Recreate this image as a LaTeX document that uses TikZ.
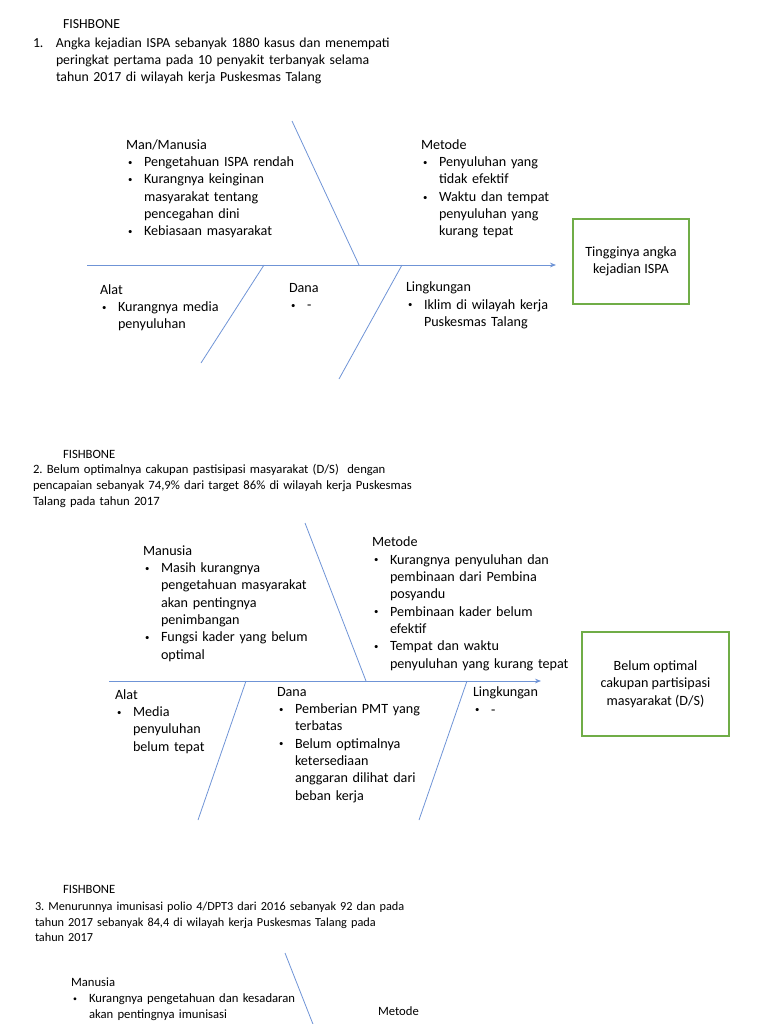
\documentclass[tikz,border=0pt]{standalone}
\usepackage{fontspec}
\usepackage{graphicx}
\setmainfont{Carlito}
\usetikzlibrary{arrows.meta}
\definecolor{bonecol}{HTML}{6F94D6}
\definecolor{boxgreen}{HTML}{70AD47}
\frenchspacing
\newcommand\bfont{\fontsize{10.6}{13}\selectfont}
\newcommand\hfont{\fontsize{10.35}{13}\selectfont}
\newcommand\sfont{\fontsize{9.5}{12}\selectfont}
\newcommand\tfont{\fontsize{9.2}{11.6}\selectfont}
\newcommand\bl{\hspace*{1.5pt}\makebox[12pt][l]{\raisebox{0.9pt}{\scalebox{0.62}{\textbullet}}}}
\newcommand\ct{\hspace*{13.5pt}}
\newcommand\hg{\hspace*{17.25pt}}
\tikzset{
  txt/.style={anchor=base west, inner sep=0pt, outer sep=0pt, text width=#1, align=left},
  txt/.default=300pt,
  bone/.style={draw=bonecol, line width=0.6pt},
  spine/.style={bone, -{Stealth[length=4.5pt,width=3.5pt]}},
  effbox/.style={draw=boxgreen, line width=0.9pt, align=center, inner sep=0pt, font=\bfont}
}
\begin{document}
\begin{tikzpicture}[x=0.75pt,y=-0.75pt]
\useasboundingbox (0,0) rectangle (768,1024);
\clip (0,0) rectangle (768,1024);

% ---------- Section 1 ----------
\node[txt, font=\hfont] (fb1) at (63,28.3) {FISHBONE};
\node[txt=340pt, font=\hfont] (h1) at (33,47.3) {\makebox[17.25pt][l]{1.}Angka kejadian ISPA sebanyak 1880 kasus dan menempati\\
\hg peringkat pertama pada 10 penyakit terbanyak selama\\
\hg tahun 2017 di wilayah kerja Puskesmas Talang};

\coordinate (s1a) at (87,265);
\coordinate (s1b) at (556,265);
\coordinate (u1t) at (292,121);
\coordinate (u1b) at (359,265);
\coordinate (l1b) at (201,363);
\coordinate (l1t) at (264,265);
\coordinate (l2b) at (339,379);
\coordinate (l2t) at (402,265);
\draw[spine] (s1a) -- (s1b);
\draw[bone] (u1t) -- (u1b);
\draw[bone] (l1b) -- (l1t);
\draw[bone] (l2b) -- (l2t);

\node[effbox, minimum width=87pt, minimum height=63.75pt] (eff1) at (631,261.5) {Tingginya angka\\kejadian ISPA};

\node[txt, font=\bfont] (man1) at (126,149.3) {Man/Manusia\\
\bl Pengetahuan ISPA rendah\\
\bl Kurangnya keinginan\\
\ct masyarakat tentang\\
\ct pencegahan dini\\
\bl Kebiasaan masyarakat};
\node[txt, font=\bfont] (met1) at (421,149.3) {Metode\\
\bl Penyuluhan yang\\
\ct tidak efektif\\
\bl Waktu dan tempat\\
\ct penyuluhan yang\\
\ct kurang tepat};
\node[txt, font=\bfont] (alat1) at (100,294) {Alat\\
\bl Kurangnya media\\
\ct penyuluhan};
\node[txt, font=\bfont] (dana1) at (289,292.3) {Dana\\
\bl -};
\node[txt, font=\bfont] (ling1) at (406,291.7) {Lingkungan\\
\bl Iklim di wilayah kerja\\
\ct Puskesmas Talang};

% ---------- Section 2 ----------
\node[txt, font=\sfont] (fb2) at (63,458.3) {FISHBONE};
\node[txt=340pt, font=\sfont] (h2) at (33,473.3) {2. Belum optimalnya cakupan pastisipasi masyarakat (D/S)~~dengan\\
pencapaian sebanyak 74,9\% dari target 86\% di wilayah kerja Puskesmas\\
Talang pada tahun 2017};

\coordinate (s2a) at (109,681);
\coordinate (s2b) at (541,681);
\coordinate (u2t) at (305,523);
\coordinate (u2b) at (366,681);
\coordinate (m1b) at (198,820);
\coordinate (m1t) at (246,681);
\coordinate (m2b) at (419,820);
\coordinate (m2t) at (467,681);
\draw[spine] (s2a) -- (s2b);
\draw[bone] (u2t) -- (u2b);
\draw[bone] (m1b) -- (m1t);
\draw[bone] (m2b) -- (m2t);

\node[effbox, minimum width=110.25pt, minimum height=78pt] (eff2) at (655.5,684) {Belum optimal\\cakupan partisipasi\\masyarakat (D/S)};

\node[txt, font=\bfont] (man2) at (143,555) {Manusia\\
\bl Masih kurangnya\\
\ct pengetahuan masyarakat\\
\ct akan pentingnya\\
\ct penimbangan\\
\bl Fungsi kader yang belum\\
\ct optimal};
\node[txt, font=\bfont] (met2) at (372,546.7) {Metode\\
\bl Kurangnya penyuluhan dan\\
\ct pembinaan dari Pembina\\
\ct posyandu\\
\bl Pembinaan kader belum\\
\ct efektif\\
\bl Tempat dan waktu\\
\ct penyuluhan yang kurang tepat};
\node[txt, font=\bfont] (alat2) at (115,699.3) {Alat\\
\bl Media\\
\ct penyuluhan\\
\ct belum tepat};
\node[txt, font=\bfont] (dana2) at (277,696) {Dana\\
\bl Pemberian PMT yang\\
\ct terbatas\\
\bl Belum optimalnya\\
\ct ketersediaan\\
\ct anggaran dilihat dari\\
\ct beban kerja};
\node[txt, font=\bfont] (ling2) at (473,696.7) {Lingkungan\\
\bl -};

% ---------- Section 3 ----------
\node[txt, font=\sfont] (fb3) at (63,893.3) {FISHBONE};
\node[txt=340pt, font=\tfont] (h3) at (35,910.7) {3. Menurunnya imunisasi polio 4/DPT3 dari 2016 sebanyak 92 dan pada\\
tahun 2017 sebanyak 84,4 di wilayah kerja Puskesmas Talang pada\\
tahun 2017};

\coordinate (u3t) at (285,953);
\coordinate (u3b) at (320,1042);
\draw[bone] (u3t) -- (u3b);

\node[txt, font=\sfont] (man3) at (71,986.7) {Manusia\\
\bl Kurangnya pengetahuan dan kesadaran\\
\ct akan pentingnya imunisasi};
\node[txt, font=\sfont] (met3) at (378,1015) {Metode};
\end{tikzpicture}
\end{document}
